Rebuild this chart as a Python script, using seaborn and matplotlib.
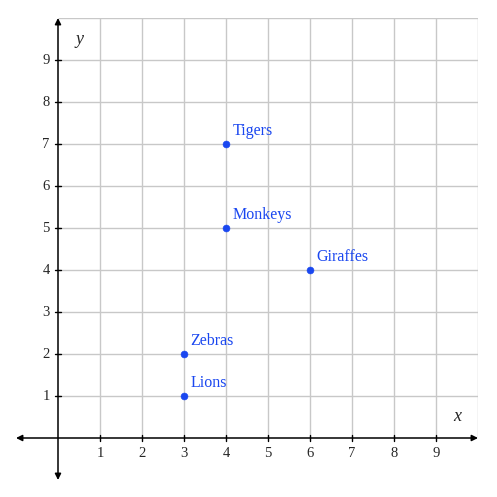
import matplotlib
matplotlib.use("Agg")
import matplotlib.pyplot as plt
import seaborn as sns
import pandas as pd

# ---------- DATA ----------
animals = ["Tigers", "Monkeys", "Giraffes", "Zebras", "Lions"]
xs = [4, 4, 6, 3, 3]
ys = [7, 5, 4, 2, 1]
ticks = [1, 2, 3, 4, 5, 6, 7, 8, 9]

df = pd.DataFrame({"animal": animals, "x": xs, "y": ys})

sns.set_style("white")
plt.rcParams["font.family"] = ["Liberation Serif", "DejaVu Serif"]

fig = plt.figure(figsize=(4.97, 4.97), dpi=100)
ax = fig.add_axes([16 / 497, 17 / 497, 462 / 497, 462 / 497])
ax.set_xlim(-1, 10)
ax.set_ylim(-1, 10)
ax.axis("off")

# grid, first quadrant only
grid_c = "#c8c8c8"
ax.vlines(ticks + [10], 0, 10, color=grid_c, lw=1, zorder=0)
ax.hlines(ticks + [10], 0, 10, color=grid_c, lw=1, zorder=0)

# axes with arrows
arrow = dict(arrowstyle="<|-|>", color="black", lw=1.1, mutation_scale=9,
             shrinkA=0, shrinkB=0)
ax.annotate("", xy=(-1, 0), xytext=(10, 0), arrowprops=arrow)
ax.annotate("", xy=(0, -1), xytext=(0, 10), arrowprops=arrow)

for t in ticks:
    ax.plot([t, t], [-0.08, 0.08], color="black", lw=1)
    ax.plot([-0.08, 0.08], [t, t], color="black", lw=1)
    ax.text(t, -0.22, str(t), ha="center", va="top", fontsize=10.5)
    ax.text(-0.2, t, str(t), ha="right", va="center", fontsize=10.5)

ax.text(9.5, 0.3, "x", style="italic", fontsize=13, ha="center", va="bottom")
ax.text(0.5, 9.5, "y", style="italic", fontsize=13, ha="center", va="center")

blue = "#1a47f0"
sns.scatterplot(data=df, x="x", y="y", ax=ax, color=blue, s=25,
                edgecolor=blue, zorder=5, legend=False)
for _, r in df.iterrows():
    ax.text(r["x"] + 0.15, r["y"] + 0.12, r["animal"], color=blue,
            fontsize=11.5, ha="left", va="bottom")
ax.axis("off")

fig.savefig("out.png", dpi=100)
